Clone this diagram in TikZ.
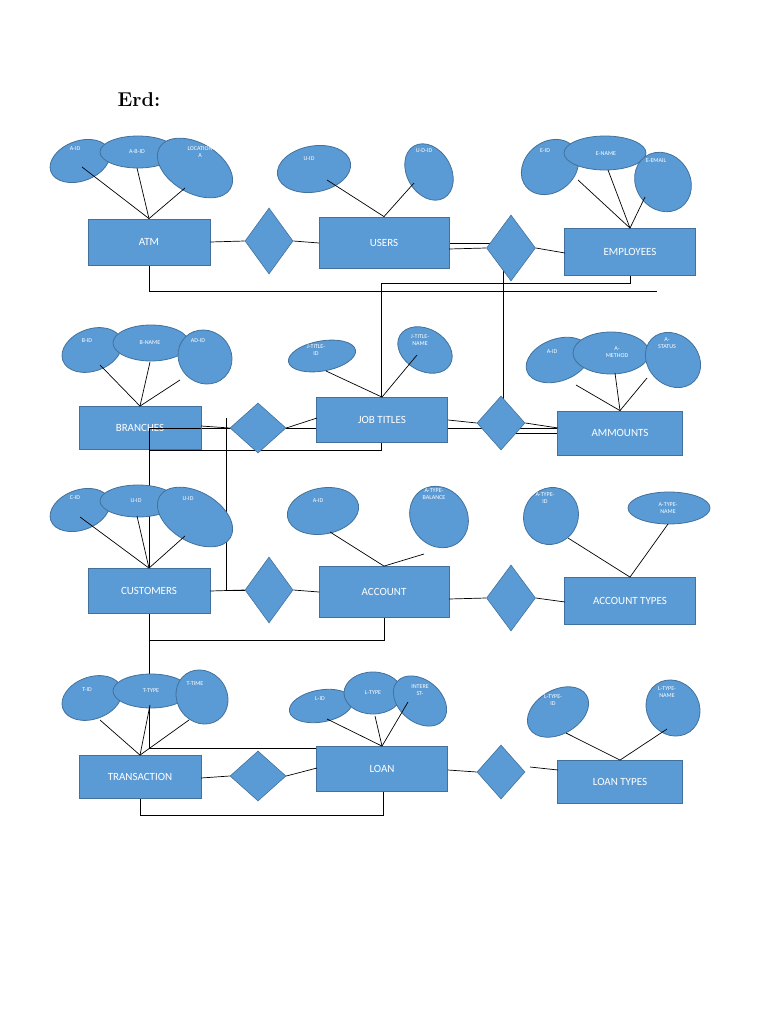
\documentclass[tikz,border=0pt]{standalone}
\usepackage{fontspec}
\setsansfont{Carlito}
\usetikzlibrary{shapes.geometric, positioning}
\definecolor{boxfill}{HTML}{5B9BD5}
\definecolor{boxline}{HTML}{41719C}
\begin{document}
\begin{tikzpicture}[
  x=1pt, y=-1pt,
  entity/.style={rectangle, draw=boxline, fill=boxfill, line width=0.8pt, text=white, font=\sffamily\fontsize{11}{12}\selectfont},
  rel/.style={diamond, draw=boxline, fill=boxfill, line width=0.6pt, inner sep=0pt},
  attr/.style={ellipse, draw=boxline, fill=boxfill, line width=0.8pt, inner sep=0pt},
  atext/.style={text=white, font=\sffamily\fontsize{6}{7}\selectfont, align=center, inner sep=0pt},
  link/.style={draw=black, line width=0.7pt}
]
\useasboundingbox (0,0) rectangle (768,1024);
\node[font=\bfseries\fontsize{20}{22}\selectfont] (title) at (139,100) {Erd:};

% long connectors behind the shapes
\draw[link] (149,265) -- (149,291) -- (657,291);
\draw[link] (630,276) -- (630,283) -- (381,283) -- (381,450) -- (150,450);
\draw[link] (449,243) -- (503,243) -- (503,433) -- (558,433);
\draw[link] (149,428) -- (558,428);
\draw[link] (149,428) -- (149,748) -- (317,748);
\draw[link] (226,418) -- (226,590) -- (245,590);
\draw[link] (384,617) -- (384,640) -- (149,640);
\draw[link] (140,799) -- (140,815) -- (383,815) -- (383,791);

% attributes
\foreach \n/\x/\y/\w/\h/\r in {
  aid/80/161/62/40/20, abid/138/152/76/32/0, aloc/195/168/82/50/-30,
  uid/314/169/74/46/10, udid/429/172/60/44/-60,
  eid/550/167/62/50/40, ename/605/153/82/34/0, email/663/182/62/54/-55,
  bid/92/350/62/42/20, bname/151/343/76/36/0, adid/205/357/56/52/-45,
  jtid/322/356/68/30/10, jtname/425/350/58/42/-30,
  amid/558/360/66/42/20, ameth/611/353/76/42/0, astat/673/360/60/50/-45,
  cid/80/510/62/40/20, cuid/138/501/76/32/0, cuidb/195/517/82/50/-30,
  acid/323/511/72/46/10, atbal/439/517/64/56/-55,
  atid/551/516/58/54/60, atname/669/508/82/32/0,
  tid/92/698/62/42/20, ttype/151/691/76/34/0, ttime/202/697/56/50/-55,
  lid/321/706/64/32/10, ltype/373/693/58/42/0, lint/420/701/60/42/-40,
  ltid/558/712/66/44/30, ltname/673/708/58/52/-55}
  \node[attr, minimum width=\w, minimum height=\h, rotate=\r] (\n) at (\x,\y) {};

\foreach \n/\x/\y/\t in {
  aid/75/149/A-ID, abid/137/152/A-B-ID, aloc/200/152/{LOCATION\\A},
  uid/309/159/U-ID, udid/424/151/U-D-ID,
  eid/545/151/E-ID, ename/606/154/E-NAME, email/656/161/E-EMAIL,
  bid/87/341/B-ID, bname/150/343/B-NAME, adid/198/341/AD-ID,
  jtid/316/350/{J-TITLE-\\ID}, jtname/420/340/{J-TITLE-\\NAME},
  amid/552/352/A-ID, ameth/617/352/{A-\\METHOD}, astat/667/343/{A-\\STATUS},
  cid/75/498/C-ID, cuid/136/501/U-ID, cuidb/188/499/U-ID,
  acid/318/501/A-ID, atbal/434/494/{A-TYPE-\\BALANCE},
  atid/545/498/{A-TYPE-\\ID}, atname/668/508/{A-TYPE-\\NAME},
  tid/87/690/T-ID, ttype/151/691/T-TYPE, ttime/195/684/T-TIME,
  lid/320/699/L-ID, ltype/373/693/L-TYPE, lint/420/690/{INTERE\\ST-},
  ltid/553/700/{L-TYPE-\\ID}, ltname/667/692/{L-TYPE-\\NAME}}
  \node[atext] (t\n) at (\x,\y) {\t};

% entities
\node[entity, minimum width=122, minimum height=46] (atm) at (149,242) {ATM};
\node[entity, minimum width=130, minimum height=51] (users) at (384,242.5) {USERS};
\node[entity, minimum width=131, minimum height=47] (emp) at (630,252) {EMPLOYEES};
\node[entity, minimum width=131, minimum height=45] (jobs) at (382,420) {JOB TITLES};
\node[entity, minimum width=125, minimum height=44] (amm) at (620,433) {AMMOUNTS};
\node[entity, minimum width=130, minimum height=51] (acc) at (384,592) {ACCOUNT};
\node[entity, minimum width=131, minimum height=47] (acct) at (630,601) {ACCOUNT TYPES};
\node[entity, minimum width=122, minimum height=43] (trans) at (140,777) {TRANSACTION};
\node[entity, minimum width=131, minimum height=45] (loan) at (382,769) {LOAN};
\node[entity, minimum width=125, minimum height=43] (loant) at (620,782) {LOAN TYPES};
\node[entity, minimum width=122, minimum height=45] (cust) at (149,591) {CUSTOMERS};
\node[entity, minimum width=122, minimum height=43] (bran) at (140,428) {BRANCHES};
\draw[link] (149,428) -- (201,428);
\draw[link] (149,450) -- (149,428);

% relationships
\foreach \n/\x/\y/\w/\h in {
  r1/269/241/48/66, r2/511/248/49/66, r3/258/428/56/50, r4/501/423/48/54,
  r5/269/590/48/66, r6/511/598/49/66, r7/258/776/56/50, r8/501/772/48/54}
  \node[rel, minimum width=\w, minimum height=\h] (\n) at (\x,\y) {};

% short connectors
\draw[link] (atm.east) -- (r1.west);
\draw[link] (r1.east) -- (319,243);
\draw[link] (449,249) -- (r2.west);
\draw[link] (r2.east) -- (565,253);
\draw[link] (201,426) -- (r3.west);
\draw[link] (r3.east) -- (317,418);
\draw[link] (448,420) -- (r4.west);
\draw[link] (r4.east) -- (558,428);
\draw[link] (cust.east) -- (r5.west);
\draw[link] (r5.east) -- (319,592);
\draw[link] (449,599) -- (r6.west);
\draw[link] (r6.east) -- (565,602);
\draw[link] (201,778) -- (r7.west);
\draw[link] (r7.east) -- (317,768);
\draw[link] (448,770) -- (r8.west);
\draw[link] (530,767) -- (558,770);

% attribute links
\foreach \a/\b/\x/\y in {
  aid/atm/82/167, abid/atm/137/168, aloc/atm/185/188,
  uid/users/327/180, udid/users/414/183,
  eid/emp/578/180, ename/emp/608/170, email/emp/645/197,
  bid/bran/100/365, bname/bran/150/362, adid/bran/180/380,
  jtid/jobs/326/371, jtname/jobs/417/355,
  amid/amm/576/385, ameth/amm/615/373, astat/amm/647/378,
  cid/cust/80/517, cuid/cust/137/516, cuidb/cust/185/536,
  acid/acc/330/532, atbal/acc/424/554,
  atid/acct/568/538, atname/acct/668/524,
  tid/trans/100/720, ttype/trans/150/705, ttime/trans/189/720,
  lid/loan/327/719, ltype/loan/375/716, lint/loan/408/702,
  ltid/loant/566/733, ltname/loant/667/729}
  \draw[link] (\x,\y) -- (\b.north);
\end{tikzpicture}
\end{document}
